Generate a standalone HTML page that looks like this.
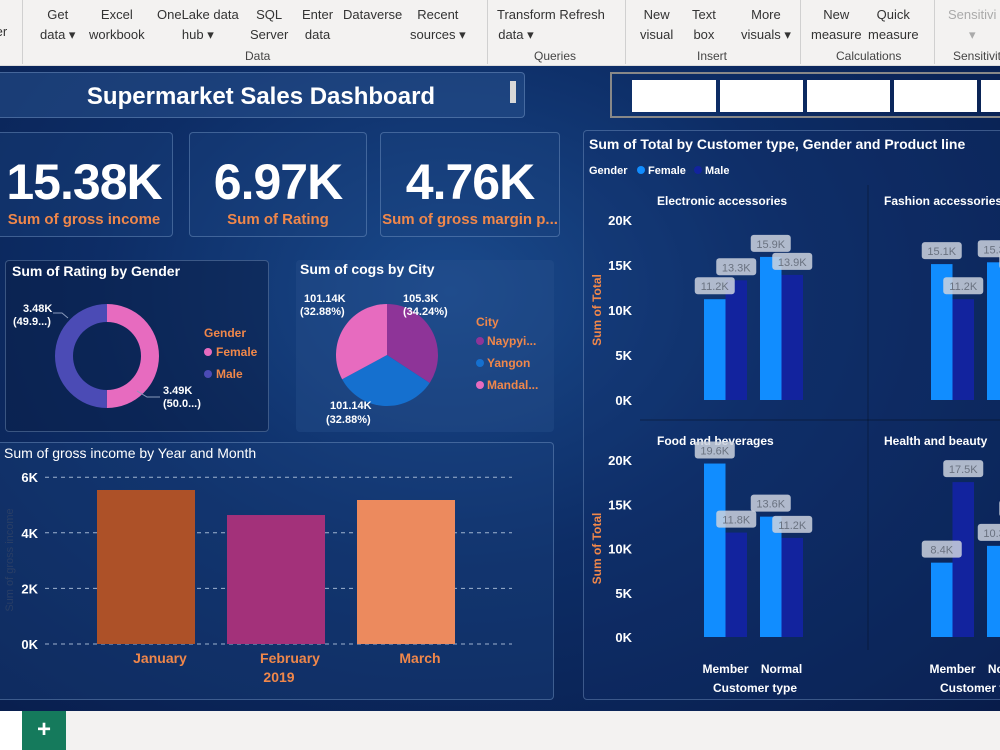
<!DOCTYPE html>
<html><head><meta charset="utf-8">
<style>
*{margin:0;padding:0;box-sizing:border-box}
body{width:1000px;height:750px;overflow:hidden;font-family:"Liberation Sans",sans-serif;background:#f3f2f1;position:relative}
#ribbon{position:absolute;left:0;top:0;width:1000px;height:66px;background:#f3f2f1;border-bottom:1px solid #ddd;font-size:13px;color:#333}
.rb{position:absolute;text-align:center;line-height:20px}
.grp{position:absolute;top:49px;font-size:12px;color:#444}
.sep{position:absolute;top:0;width:1px;height:64px;background:#d0d0d0}
#canvas{position:absolute;left:0;top:66px;width:1000px;height:645px;background:radial-gradient(ellipse at 45% 35%,#1a4a8c 0%,#0d2d66 45%,#081c4a 100%)}
.card{position:absolute;border:1px solid rgba(150,180,220,0.35);border-radius:4px;background:rgba(30,70,130,0.35)}
.kv{position:absolute;width:100%;text-align:center;top:20px;font-size:50px;font-weight:bold;color:#fff;letter-spacing:-1px}
.kl{position:absolute;width:100%;text-align:center;top:78px;font-size:15px;font-weight:bold;color:#f0874a;white-space:nowrap;overflow:hidden}
#bottombar{position:absolute;left:0;top:711px;width:1000px;height:39px;background:#f3f2f1}
</style></head><body>
<div id="ribbon">
<div class="rb" style="left:-8px;top:22px">ter</div>
<div class="sep" style="left:22px"></div>
<div class="rb" style="left:40px;top:5px">Get<br>data ▾</div>
<div class="rb" style="left:89px;top:5px">Excel<br>workbook</div>
<div class="rb" style="left:157px;top:5px">OneLake data<br>hub ▾</div>
<div class="rb" style="left:250px;top:5px">SQL<br>Server</div>
<div class="rb" style="left:302px;top:5px">Enter<br>data</div>
<div class="rb" style="left:343px;top:5px">Dataverse</div>
<div class="rb" style="left:410px;top:5px">Recent<br>sources ▾</div>
<div class="grp" style="left:245px">Data</div>
<div class="sep" style="left:487px"></div>
<div class="rb" style="left:497px;top:5px">Transform Refresh<br><span style="margin-right:70px">data ▾</span></div>
<div class="grp" style="left:534px">Queries</div>
<div class="sep" style="left:625px"></div>
<div class="rb" style="left:640px;top:5px">New<br>visual</div>
<div class="rb" style="left:692px;top:5px">Text<br>box</div>
<div class="rb" style="left:741px;top:5px">More<br>visuals ▾</div>
<div class="grp" style="left:697px">Insert</div>
<div class="sep" style="left:800px"></div>
<div class="rb" style="left:811px;top:5px">New<br>measure</div>
<div class="rb" style="left:868px;top:5px">Quick<br>measure</div>
<div class="grp" style="left:836px">Calculations</div>
<div class="sep" style="left:934px"></div>
<div class="rb" style="left:948px;top:5px;color:#aaa">Sensitivi<br>▾</div>
<div class="grp" style="left:953px">Sensitivit</div>
</div>

<div id="canvas">
<div class="card" style="left:-5px;top:6px;width:530px;height:46px;background:rgba(40,80,140,0.55)">
<div style="position:absolute;left:0;width:530px;top:10px;text-align:center;color:#fff;font-size:24px;font-weight:bold">Supermarket Sales Dashboard</div>
<div style="position:absolute;left:514px;top:8px;width:6px;height:22px;background:#d8d8d8"></div>
</div>
<div style="position:absolute;left:610px;top:6px;width:390px;height:46px;border:2px solid #888;border-right:none">
<div style="position:absolute;left:20px;top:6px;width:84px;height:32px;background:#fff"></div>
<div style="position:absolute;left:108px;top:6px;width:83px;height:32px;background:#fff"></div>
<div style="position:absolute;left:195px;top:6px;width:83px;height:32px;background:#fff"></div>
<div style="position:absolute;left:282px;top:6px;width:83px;height:32px;background:#fff"></div>
<div style="position:absolute;left:369px;top:6px;width:30px;height:32px;background:#fff"></div>
</div>

<div class="card" style="left:-5px;top:66px;width:178px;height:105px"><div class="kv">15.38K</div><div class="kl">Sum of gross income</div></div>
<div class="card" style="left:189px;top:66px;width:178px;height:105px"><div class="kv">6.97K</div><div class="kl">Sum of Rating</div></div>
<div class="card" style="left:380px;top:66px;width:180px;height:105px"><div class="kv">4.76K</div><div class="kl">Sum of gross margin p...</div></div>

<div class="card" style="left:5px;top:194px;width:264px;height:172px;background:rgba(10,30,70,0.5)"></div>
<div class="card" style="left:296px;top:194px;width:258px;height:172px;border:none;background:rgba(40,80,140,0.4)"></div>
<div class="card" style="left:-5px;top:376px;width:559px;height:258px"></div>
<div class="card" style="left:583px;top:64px;width:430px;height:570px;background:rgba(20,50,110,0.3)"></div>
</div>

<svg id="chart" width="1000" height="750" style="position:absolute;left:0;top:0" font-family="Liberation Sans, sans-serif"></svg>

<div id="bottombar">
<div style="position:absolute;left:0;top:0;width:22px;height:39px;background:#fff"></div>
<div style="position:absolute;left:22px;top:0;width:44px;height:39px;background:#157a5c;color:#fff;font-size:24px;font-weight:bold;text-align:center;line-height:38px">+</div>
</div>

<script>
// Gross income by month
const months=["January","February","March"];
const grossIncome=[5.54,4.64,5.18];
const incomeTicks=[0,2,4,6];
// Rating by gender
const genders=["Female","Male"];
const ratingValues=[3.49,3.48];
// COGS by city
const cities=["Naypyitaw","Yangon","Mandalay"];
const cogsValues=[105.3,101.14,101.14];
// Total by customer type, gender, product line
const productLines=["Electronic accessories","Fashion accessories","Food and beverages","Health and beauty"];
const customerTypes=["Member","Normal"];
const femaleTotals=[[11.2,15.9],[15.1,15.3],[19.6,13.6],[8.4,10.3]];
const maleTotals=[[13.3,13.9],[11.2,14.0],[11.8,11.2],[17.5,13.0]];
const totalTicks=[0,5,10,15,20];

const svg=document.getElementById('chart');
const NS='http://www.w3.org/2000/svg';
function mk(tag,attrs,txt){const e=document.createElementNS(NS,tag);for(const k in attrs)e.setAttribute(k,attrs[k]);if(txt!==undefined)e.textContent=txt;svg.appendChild(e);return e;}

let e;
e=mk('text',{x:4,y:458,fill:'#fff','font-size':14},'Sum of gross income by Year and Month');


const iy=v=>644-v*27.8;
incomeTicks.forEach(t=>{
 e=mk('line',{x1:45,x2:512,y1:iy(t),y2:iy(t),stroke:'#9fb3d0','stroke-dasharray':'4 4','stroke-width':1});
 
 
 e=mk('text',{x:38,y:iy(t)+5,fill:'#fff','font-size':13,'font-weight':'bold','text-anchor':'end'},t+'K');
 
 
});
e=mk('text',{x:13,y:560,fill:'#2a3f66','font-size':11,transform:'rotate(-90 13 560)','text-anchor':'middle'},'Sum of gross income');


const barColors=['#ad5128','#a3317a','#ec8a5e'];
months.forEach((m,i)=>{
 const cx=146+i*130;
 e=mk('rect',{x:cx-49,y:iy(grossIncome[i]),width:98,height:grossIncome[i]*27.8,fill:barColors[i]});
 
 
 e=mk('text',{x:cx+14,y:663,fill:'#f0874a','font-size':14,'font-weight':'bold','text-anchor':'middle'},m);
 
 
});
e=mk('text',{x:279,y:682,fill:'#f0874a','font-size':14,'font-weight':'bold','text-anchor':'middle'},'2019');



e=mk('text',{x:12,y:276,fill:'#fff','font-size':14,'font-weight':'bold'},'Sum of Rating by Gender');


function arc(cx,cy,r,ri,a0,a1){
 const p=(a,rr)=>[cx+rr*Math.sin(a),cy-rr*Math.cos(a)];
 const large=(a1-a0)>Math.PI?1:0;
 const [x0,y0]=p(a0,r),[x1,y1]=p(a1,r);
 if(ri>0){const [x2,y2]=p(a1,ri),[x3,y3]=p(a0,ri);
  return `M${x0},${y0}A${r},${r} 0 ${large} 1 ${x1},${y1}L${x2},${y2}A${ri},${ri} 0 ${large} 0 ${x3},${y3}Z`;}
 return `M${cx},${cy}L${x0},${y0}A${r},${r} 0 ${large} 1 ${x1},${y1}Z`;
}
const genderColors=['#e76bbf','#4b4bb5'];
let tot=ratingValues.reduce((a,b)=>a+b,0),a=0;
ratingValues.forEach((v,i)=>{
 const a1=a+v/tot*2*Math.PI;
 e=mk('path',{d:arc(107,356,52,34,a,a1),fill:genderColors[i]});
 
 
 a=a1;
});
e=mk('text',{x:23,y:312,fill:'#fff','font-size':11,'font-weight':'bold'},'3.48K');


mk('text',{x:13,y:325,fill:'#fff','font-size':11,'font-weight':'bold'},'(49.9...)');
e=mk('text',{x:163,y:394,fill:'#fff','font-size':11,'font-weight':'bold'},'3.49K');


mk('text',{x:163,y:407,fill:'#fff','font-size':11,'font-weight':'bold'},'(50.0...)');
mk('polyline',{points:'53,313 62,313 68,318',fill:'none',stroke:'#8899bb'});
mk('polyline',{points:'137,391 147,397 160,397',fill:'none',stroke:'#8899bb'});
e=mk('text',{x:204,y:337,fill:'#f0874a','font-size':12,'font-weight':'bold'},'Gender');


genders.forEach((g,i)=>{
 e=mk('circle',{cx:208,cy:352+i*22,r:4,fill:genderColors[i]});
 
 
 e=mk('text',{x:216,y:356+i*22,fill:'#f0874a','font-size':12,'font-weight':'bold'},g);
 
 
});

e=mk('text',{x:300,y:274,fill:'#fff','font-size':14,'font-weight':'bold'},'Sum of cogs by City');


const cityColors=['#8e3498','#1570cf','#e76bbf'];
const cityLabels=['Naypyi...','Yangon','Mandal...'];
tot=cogsValues.reduce((a,b)=>a+b,0);a=0;
cogsValues.forEach((v,i)=>{
 const a1=a+v/tot*2*Math.PI;
 e=mk('path',{d:arc(387,355,51,0,a,a1),fill:cityColors[i]});
 
 
 a=a1;
});
[[403,302,'105.3K'],[403,315,'(34.24%)'],[304,302,'101.14K'],[300,315,'(32.88%)'],[330,409,'101.14K'],[326,423,'(32.88%)']].forEach(d=>{
 e=mk('text',{x:d[0],y:d[1],fill:'#fff','font-size':11,'font-weight':'bold'},d[2]);
 
 
});
e=mk('text',{x:476,y:326,fill:'#f0874a','font-size':12,'font-weight':'bold'},'City');


cityLabels.forEach((c,i)=>{
 e=mk('circle',{cx:480,cy:341+i*22,r:4,fill:cityColors[i]});
 
 
 e=mk('text',{x:487,y:345+i*22,fill:'#f0874a','font-size':12,'font-weight':'bold'},c);
 
 
});

e=mk('text',{x:589,y:149,fill:'#fff','font-size':14,'font-weight':'bold'},'Sum of Total by Customer type, Gender and Product line');


e=mk('text',{x:589,y:174,fill:'#fff','font-size':11,'font-weight':'bold'},'Gender');


mk('circle',{cx:641,cy:170,r:4,fill:'#118dff'});
e=mk('text',{x:648,y:174,fill:'#fff','font-size':11,'font-weight':'bold'},'Female');


mk('circle',{cx:698,cy:170,r:4,fill:'#12239e'});
e=mk('text',{x:705,y:174,fill:'#fff','font-size':11,'font-weight':'bold'},'Male');


mk('line',{x1:868,x2:868,y1:185,y2:650,stroke:'rgba(0,0,0,0.3)'});
mk('line',{x1:640,x2:1000,y1:420,y2:420,stroke:'rgba(0,0,0,0.35)'});
const panels=[{x0:0,base:400,top:220},{x0:227,base:400,top:220},{x0:0,base:637,top:460},{x0:227,base:637,top:460}];
productLines.forEach((pl,p)=>{
 const P=panels[p];const sc=(P.base-P.top)/20;const ty=v=>P.base-v*sc;
 e=mk('text',{x:657+P.x0,y:P.top-15,fill:'#fff','font-size':12,'font-weight':'bold'},pl);
 
 
 if(P.x0===0){
  totalTicks.forEach(t=>{
   e=mk('text',{x:632,y:ty(t)+5,fill:'#fff','font-size':13,'font-weight':'bold','text-anchor':'end'},t+'K');
   
   
  });
  const my=(P.base+P.top)/2;
  e=mk('text',{x:601,y:my,fill:'#f0874a','font-size':12,'font-weight':'bold','text-anchor':'middle',transform:`rotate(-90 601 ${my})`},'Sum of Total');
  
  
 }
 const labels=[];
 customerTypes.forEach((ct,j)=>{
  const gx=704+P.x0+j*56;
  [[femaleTotals[p][j],'#118dff','female'],[maleTotals[p][j],'#12239e','male']].forEach((d,k)=>{
   const bx=gx+k*21.5;
   e=mk('rect',{x:bx,y:ty(d[0]),width:21.5,height:d[0]*sc,fill:d[1]});
   
   
   labels.push([bx+10.75,ty(d[0]),d[0]]);
  });
  if(p>=2){
   e=mk('text',{x:gx+21.5,y:673,fill:'#fff','font-size':12,'font-weight':'bold','text-anchor':'middle'},ct);
   
   
  }
 });
 if(p>=2){
  e=mk('text',{x:755+P.x0,y:692,fill:'#fff','font-size':12,'font-weight':'bold','text-anchor':'middle'},'Customer type');
  
  
 }
 labels.forEach(l=>{
  e=mk('rect',{x:l[0]-20,y:l[1]-22,width:40,height:17,rx:3,fill:'rgba(205,210,222,0.85)'});
  
  
  e=mk('text',{x:l[0],y:l[1]-9,fill:'#6a7280','font-size':11,'text-anchor':'middle'},l[2].toFixed(1)+'K');
  
  
 });
});
</script>
</body></html>
